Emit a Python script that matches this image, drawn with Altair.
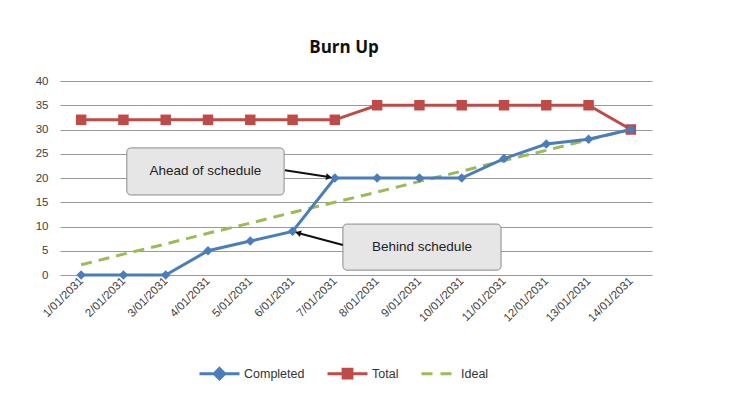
import altair as alt
import pandas as pd

dates = ["1/01/2031", "2/01/2031", "3/01/2031", "4/01/2031", "5/01/2031", "6/01/2031",
         "7/01/2031", "8/01/2031", "9/01/2031", "10/01/2031", "11/01/2031", "12/01/2031",
         "13/01/2031", "14/01/2031"]
days = list(range(1, 15))
completed = [0, 0, 0, 5, 7, 9, 20, 20, 20, 20, 24, 27, 28, 30]
total = [32, 32, 32, 32, 32, 32, 32, 35, 35, 35, 35, 35, 35, 30]
ideal = [2.1, 4.3, 6.4, 8.6, 10.7, 12.9, 15.0, 17.1, 19.3, 21.4, 23.6, 25.7, 27.9, 30.0]
series = ["Completed", "Total", "Ideal"]
colors = ["#4a7ebb", "#be4b48", "#9bbb59"]

# annotation boxes (data coordinates)
box_text = ["Ahead of schedule", "Behind schedule"]
box_x1 = [2.08, 7.19]
box_x2 = [5.80, 10.93]
box_y1 = [16.5, 1.0]
box_y2 = [26.2, 10.5]
# arrows
arr_x1 = [5.82, 7.19]
arr_y1 = [21.6, 6.2]
arr_x2 = [6.86, 6.13]
arr_y2 = [20.2, 8.66]
arr_angle = [9, 15]

rows = []
for s, vals in zip(series, [completed, total, ideal]):
    for d, v in zip(days, vals):
        rows.append({"day": d, "series": s, "value": v})
df = pd.DataFrame(rows)

boxes = pd.DataFrame({"text": box_text, "x1": box_x1, "x2": box_x2, "y1": box_y1, "y2": box_y2})
boxes["xc"] = (boxes.x1 + boxes.x2) / 2
boxes["yc"] = (boxes.y1 + boxes.y2) / 2
arrows = pd.DataFrame({"x1": arr_x1, "y1": arr_y1, "x2": arr_x2, "y2": arr_y2,
                       "angle": arr_angle})

label_expr = "[" + ",".join("'" + d + "'" for d in dates) + "][datum.value - 1]"

xscale = alt.Scale(domain=[0.5, 14.5], nice=False, zero=False)
yscale = alt.Scale(domain=[0, 40], nice=False)

x_axis = alt.Axis(values=days, labelExpr=label_expr, labelAngle=-45,
                  labelAlign="right", labelBaseline="middle", labelPadding=4,
                  labelOverlap=False, grid=False, ticks=False, domain=False, title=None,
                  labelFontSize=11.5, labelColor="#404040", labelFont="Liberation Sans")
y_axis = alt.Axis(values=list(range(0, 45, 5)), grid=True, gridColor="#9a9a9a",
                  gridWidth=1.2, ticks=False, domain=False, title=None, labelOverlap=False,
                  labelPadding=12, labelFontSize=11.5, labelColor="#404040",
                  labelFont="Liberation Sans")
x_enc = alt.X("day:Q", scale=xscale, axis=x_axis)
y_enc = alt.Y("value:Q", scale=yscale, axis=y_axis)

base = alt.Chart(df)

ideal_line = base.transform_filter(alt.datum.series == "Ideal").mark_line(
    strokeWidth=3, strokeDash=[11, 7], color=colors[2]).encode(x=x_enc, y=y_enc)

total_line = base.transform_filter(alt.datum.series == "Total").mark_line(
    strokeWidth=3, color=colors[1]).encode(x=x_enc, y=y_enc)
total_pts = base.transform_filter(alt.datum.series == "Total").mark_point(
    shape="square", filled=True, size=110, opacity=1, color=colors[1]).encode(x=x_enc, y=y_enc)

comp_line = base.transform_filter(alt.datum.series == "Completed").mark_line(
    strokeWidth=3, color=colors[0]).encode(x=x_enc, y=y_enc)
comp_pts = base.transform_filter(alt.datum.series == "Completed").mark_point(
    shape="diamond", filled=True, size=90, opacity=1, color=colors[0]).encode(x=x_enc, y=y_enc)

legend_paths = [
    "M-1,0H1M0,-0.26L0.26,0L0,0.26L-0.26,0ZM0,-0.12L0.12,0L0,0.12L-0.12,0Z",
    "M-1,0H1M-0.22,-0.22H0.22V0.22H-0.22ZM-0.1,-0.1H0.1V0.1H-0.1ZM0,-0.26L0,-0.26M0,0.26L0,0.26",
    "M-0.75,0H-0.2M0.2,0H0.75M0,-0.26L0,-0.26M0,0.26L0,0.26",
]
leg = alt.Legend(title=None, orient="none", direction="horizontal",
                 legendX=138, legendY=271, symbolSize=1600,
                 symbolStrokeWidth=3, symbolOpacity=1, labelFontSize=12.5,
                 labelColor="#333333", labelFont="Liberation Sans",
                 labelOffset=3, columnPadding=16)
legend_layer = base.transform_calculate(hidden="-100").mark_point(
    filled=False, clip=True, strokeWidth=3, opacity=1).encode(
    x=alt.X("day:Q", scale=xscale, axis=x_axis),
    y=alt.Y("hidden:Q", scale=yscale, axis=y_axis),
    color=alt.Color("series:N", scale=alt.Scale(domain=series, range=colors), legend=leg),
    shape=alt.Shape("series:N", scale=alt.Scale(domain=series, range=legend_paths), legend=leg),
)

box_rect = alt.Chart(boxes).mark_rect(fill="#e6e6e6", stroke="#8a8a8a", strokeWidth=1,
                                      cornerRadius=4).encode(
    x=alt.X("x1:Q", scale=xscale, axis=x_axis), x2="x2:Q",
    y=alt.Y("y1:Q", scale=yscale, axis=y_axis), y2="y2:Q")
box_txt = alt.Chart(boxes).mark_text(fontSize=13.5, font="Liberation Sans", color="#222222").encode(
    x=alt.X("xc:Q", scale=xscale, axis=x_axis), y=alt.Y("yc:Q", scale=yscale, axis=y_axis),
    text="text:N")

arrow_line = alt.Chart(arrows).mark_rule(color="#111111", strokeWidth=2).encode(
    x=alt.X("x1:Q", scale=xscale, axis=x_axis), x2="x2:Q",
    y=alt.Y("y1:Q", scale=yscale, axis=y_axis), y2="y2:Q")
head_right = alt.Chart(arrows.iloc[[0]]).mark_point(
    filled=True, color="#111111", size=45, opacity=1, shape="triangle-right",
    angle=arr_angle[0]).encode(
    x=alt.X("x2:Q", scale=xscale, axis=x_axis), y=alt.Y("y2:Q", scale=yscale, axis=y_axis))
head_left = alt.Chart(arrows.iloc[[1]]).mark_point(
    filled=True, color="#111111", size=45, opacity=1, shape="triangle-left",
    angle=arr_angle[1]).encode(
    x=alt.X("x2:Q", scale=xscale, axis=x_axis), y=alt.Y("y2:Q", scale=yscale, axis=y_axis))

chart = alt.layer(
    ideal_line, total_line, total_pts, comp_line, comp_pts, legend_layer,
    box_rect, box_txt, arrow_line, head_right, head_left
).properties(
    width=592, height=194,
    background="white",
    autosize=alt.AutoSizeParams(type="none"),
    padding={"left": 52, "top": 73, "right": 70, "bottom": 110},
    title=alt.TitleParams("Burn Up", fontSize=17, fontWeight="bold", font="Open Sans",
                          color="#111111", offset=18, dx=-12, anchor="middle"),
).configure_view(stroke=None, strokeWidth=0)

chart.save("out.html", embed_options={"renderer": "svg", "actions": False})
